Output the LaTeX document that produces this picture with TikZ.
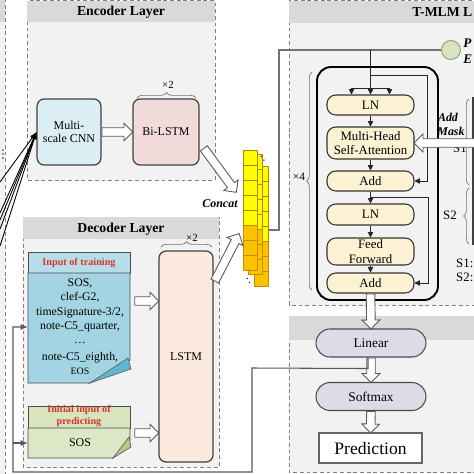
\documentclass[tikz,border=0pt]{standalone}
\usepackage{fontspec}
\setmainfont{Liberation Serif}
\usetikzlibrary{arrows.meta, positioning, shapes.arrows, calc, decorations.pathreplacing}

\definecolor{panelbg}{HTML}{F2F2F2}
\definecolor{bandbg}{HTML}{D9D9D9}
\definecolor{cnnblue}{HTML}{DBEEF4}
\definecolor{lstmpink}{HTML}{F2DCDB}
\definecolor{lstmpeach}{HTML}{FBE9DD}
\definecolor{blockcream}{HTML}{FDF1D3}
\definecolor{outlav}{HTML}{DCDCE8}
\definecolor{trainhd}{HTML}{B7DEE8}
\definecolor{trainbd}{HTML}{A2D4E3}
\definecolor{trainfold}{HTML}{5FB6CE}
\definecolor{predhd}{HTML}{D7E4BD}
\definecolor{predbd}{HTML}{DCE7C5}
\definecolor{predfold}{HTML}{B3CB84}
\definecolor{catyellow}{HTML}{FFFF00}
\definecolor{catorange}{HTML}{FFC000}
\definecolor{redtxt}{HTML}{D9342B}
\definecolor{pefill}{HTML}{D7E4BD}
\definecolor{peedge}{HTML}{8A9A6A}

% hollow block arrow between two points
\newcommand{\fatarrow}[2]{%
  \path let \p1=(#1), \p2=(#2), \n1={atan2(\y2-\y1,\x2-\x1)}, \n2={veclen(\x2-\x1,\y2-\y1)} in
    node[fatarr, rotate=\n1, minimum height=\n2] at (\p1) {};}

\begin{document}
\begin{tikzpicture}[
    x=0.02cm, y=-0.02cm,
    panel/.style={draw=black!50, dash pattern=on 2.2pt off 1.6pt, line width=0.5pt, fill=panelbg},
    band/.style={fill=bandbg},
    title/.style={font=\fontsize{7.8}{9}\selectfont\bfseries},
    blk/.style={draw=black!75, line width=0.7pt, rounded corners=4pt, align=center, font=\fontsize{6.8}{7.6}\selectfont},
    tblk/.style={draw=black!80, line width=0.6pt, rounded corners=5pt, fill=blockcream, minimum width=1.74cm, align=center, inner sep=0pt, font=\fontsize{7.3}{8.4}\selectfont},
    oblk/.style={draw=black!70, line width=0.6pt, rounded corners=8pt, fill=outlav, minimum width=2.2cm, minimum height=0.56cm, font=\fontsize{7.6}{9}\selectfont},
    lbl/.style={font=\fontsize{7.3}{8.4}\selectfont},
    emlbl/.style={font=\fontsize{6.8}{8}\selectfont\bfseries\itshape},
    redlbl/.style={text=redtxt, align=center, font=\fontsize{5.8}{6.6}\selectfont\bfseries},
    brc/.style={decorate, decoration={brace, amplitude=3pt}, draw=black!55, line width=0.4pt},
    flow/.style={-{Triangle[length=3pt, width=3pt]}, line width=0.5pt, black!85},
    fb/.style={-{Latex[length=4pt, width=3.5pt]}, line width=0.6pt, black!65},
    fatarr/.style={single arrow, draw=black!65, fill=white, line width=0.5pt, inner xsep=0pt, inner ysep=2.2pt,
        single arrow head extend=2.6pt, single arrow head indent=0pt, anchor=tail},
    cellY/.style={fill=catyellow, draw=black!30!catorange, line width=0.4pt},
    cellO/.style={fill=catorange, draw=black!25!catorange, line width=0.4pt}
]
\useasboundingbox (0,0) rectangle (474,474);
\clip (0,0) rectangle (474,474);
\fill[white] (0,0) rectangle (474,474);

% Panels
\draw[panel] (-20,-5) rectangle (5,480);
\fill[band] (-20,-5) rectangle (4.7,22);
\draw[panel] (27,0.8) rectangle (215,180);
\fill[band] (27.3,1.1) rectangle (214.7,22);
\node[title] (enctitle) at (121,12) {Encoder Layer};
\draw[panel] (23,217) rectangle (219,467);
\fill[band] (23.3,217.3) rectangle (218.7,239);
\node[title] (dectitle) at (121,229) {Decoder Layer};
\draw[panel] (289,0.8) rectangle (490,305);
\fill[band] (289.3,1.1) rectangle (490,23);
\node[title, anchor=west, inner sep=0pt] (tmlmtitle) at (412,12) {T-MLM L};
\draw[panel] (289,316) rectangle (490,472);
\fill[band] (289.3,316.3) rectangle (490,340);

% Input lines
\fill[black!80] (3,150) circle (0.5pt) (3,154) circle (0.5pt) (3,158) circle (0.5pt);
\coordinate (inA) at (0,182);
\coordinate (inB) at (0,213);
\coordinate (inC) at (0,220);
\coordinate (inD) at (0,229);
\coordinate (inE) at (0,246);

% Encoder
\node[blk, fill=cnnblue, minimum width=1.24cm, minimum height=1.32cm] (cnn) at (69,132) {Multi-\\scale CNN};
\node[blk, fill=lstmpink, minimum width=1.32cm, minimum height=1.32cm] (bilstm) at (166,132) {Bi-LSTM};
\draw[brc] (137,98) -- (196,98);
\node[font=\fontsize{6.2}{7}\selectfont] (encrep) at (168,85) {×2};
\foreach \s in {inA,inB,inC,inD,inE}
  \draw[-{Latex[length=4pt, width=3pt]}, line width=0.5pt] (\s) -- (cnn.west);
\fatarrow{cnn.east}{bilstm.west}

% Decoder inputs
\node[minimum width=2.04cm, minimum height=2.62cm] (train) at (79,317.5) {};
\fill[trainhd, draw=black!70, line width=0.5pt] (28,252) rectangle (130,273);
\filldraw[fill=trainbd, draw=black!70, line width=0.5pt] (28,273) -- (130,273) -- (130,360) -- (90,383) -- (28,383) -- cycle;
\filldraw[fill=trainfold, draw=black!60, line width=0.4pt] (90,383) -- (128,358) -- (131,369) -- cycle;
\node[redlbl] (trainhead) at (79,263) {Input of training};
\node[align=center, font=\fontsize{6.7}{8}\selectfont] (traintxt) at (80,327)
  {SOS,\\clef-G2,\\timeSignature-3/2,\\note-C5\_quarter,\\\dots\\[2pt]note-C5\_eighth,\\{\fontsize{5.6}{7}\selectfont EOS}};

\node[minimum width=2.04cm, minimum height=1.04cm] (pred) at (79,432) {};
\fill[predhd, draw=black!70, line width=0.5pt] (28,406) rectangle (130,428);
\filldraw[fill=predbd, draw=black!70, line width=0.5pt] (28,428) -- (130,428) -- (130,440) -- (113,458) -- (28,458) -- cycle;
\filldraw[fill=predfold, draw=black!60, line width=0.4pt] (113,458) -- (129,437) -- (131,447) -- cycle;
\node[redlbl] (predhead) at (79,416) {Initial input of\\predicting};
\node[font=\fontsize{6.8}{8}\selectfont] (predtxt) at (80,443) {SOS};

\node[blk, fill=lstmpeach, minimum width=1.08cm, minimum height=4.22cm] (lstm) at (186,356.5) {LSTM};
\draw[brc] (161,247) -- (212,247);
\node[font=\fontsize{6.2}{7}\selectfont] (decrep) at (192,238) {×2};
\fatarrow{$(train.east|-0,301)+(4,0)$}{lstm.west |- 0,301}
\fatarrow{$(pred.east|-0,433)+(4,0)$}{lstm.west |- 0,433}

% Concat stack
\foreach \dx/\dy in {11/16, 5/4, 0/0} {
  \foreach \i in {0,...,4}
    \draw[cellY] (243+\dx, 150+\dy+15*\i) rectangle ++(14,15);
  \foreach \i in {5,6,7}
    \draw[cellO] (243+\dx, 150+\dy+15*\i) rectangle ++(14,15);
}
\draw[dotted, line width=0.6pt, blue!40!black] (261,156) -- (266,163);
\draw[dotted, line width=0.6pt, blue!40!black] (247,278) -- (251,285);
\node[emlbl] (concat) at (220,204) {Concat};
\coordinate (catinA) at (236,192);
\coordinate (catinB) at (239,234);
\coordinate (catout) at (269,230);
\fatarrow{$(bilstm.east)+(4,16)$}{catinA}
\fatarrow{$(lstm.north east)+(1,31)$}{catinB}

% T-MLM layer
\node[circle, draw=peedge, fill=pefill, line width=0.5pt, minimum size=0.38cm, inner sep=0pt] (pe) at (451,50) {};
\node[font=\fontsize{7.5}{9}\selectfont\bfseries\itshape, anchor=west, inner sep=0pt] (pelbl1) at (463,43) {P};
\node[font=\fontsize{7.5}{9}\selectfont\bfseries\itshape, anchor=west, inner sep=0pt] (pelbl2) at (463,59) {E};
\draw[line width=0.6pt, black!55] (catout) -- (279,230) -- (279,50) -- (pe.west);

\draw[line width=1.1pt, rounded corners=8pt] (317,67) rectangle (438,300);
\node[tblk, minimum height=0.4cm] (ln1) at (370.5,105) {LN};
\node[tblk, minimum height=0.64cm] (mhsa) at (370.5,143) {Multi-Head\\Self-Attention};
\node[tblk, minimum height=0.4cm] (add1) at (370.5,181) {Add};
\node[tblk, minimum height=0.42cm] (ln2) at (370.5,214.5) {LN};
\node[tblk, minimum height=0.54cm] (ff) at (370.5,251.5) {Feed\\Forward};
\node[tblk, minimum height=0.4cm] (add2) at (370.5,283) {Add};

\draw[flow] (ln1.north |- pe.west) -- (ln1.north);
\draw[line width=0.5pt, black!85] ($(ln1.north)+(-19,-6)$) -- ($(ln1.north)+(19,-6)$);
\draw[flow] ($(ln1.north)+(-19,-6)$) -- ($(ln1.north)+(-19,0)$);
\draw[flow] ($(ln1.north)+(19,-6)$) -- ($(ln1.north)+(19,0)$);
\draw[flow] (ln1.north |- 0,75) -- (427,75) |- (add1.east);
\draw[flow] (ln1) -- (mhsa);
\draw[flow] (mhsa) -- (add1);
\draw[flow] (add1) -- (ln2);
\draw[flow] (ln2) -- (ff);
\draw[flow] (ff) -- (add2);
\draw[flow] ($(add1.south)!0.5!(ln2.north)$) -- ++(57.5,0) |- (add2.east);

\draw[brc] (312,290) -- (312,72);
\node[lbl, font=\fontsize{6.5}{8}\selectfont] (rep4) at (299,177) {×4};

% Mask
\fill[black!75] (471.5,97) rectangle (480,245);
\draw[brc] (469,185) -- (469,99);
\draw[brc] (469,244) -- (469,188);
\node[lbl] (s1) at (460,148) {S1};
\node[lbl, anchor=east] (s2) at (463,215) {S2};
\node[lbl, anchor=west] (s1def) at (450,263) {S1:};
\node[lbl, anchor=west] (s2def) at (450,277) {S2:};
\node[emlbl] (addlbl) at (448,117) {Add};
\node[emlbl] (masklbl) at (451,131) {Mask};
\coordinate (maskin) at (482,143);
\fatarrow{maskin}{mhsa.east}

% Output
\node[oblk] (linear) at (371,343) {Linear};
\node[oblk] (softmax) at (371,396.5) {Softmax};
\node[draw=black!60, line width=0.6pt, fill=white, minimum width=2.06cm, minimum height=0.6cm, font=\fontsize{10}{12}\selectfont] (predict) at (370.5,448) {Prediction};
\fatarrow{add2.south}{linear.north}
\fatarrow{linear.south}{softmax.north}
\fatarrow{softmax.south}{predict.north}

% Feedback to decoder
\draw[fb] ($(linear.south)+(-3,0)$) -- ++(0,11) -- (252,368) -- (252,472) -- (13,472) -- (13,327) -- (train.west |- 13,327);
\draw[fb] (13,443) -- (pred.west |- 13,443);

\end{tikzpicture}
\end{document}
